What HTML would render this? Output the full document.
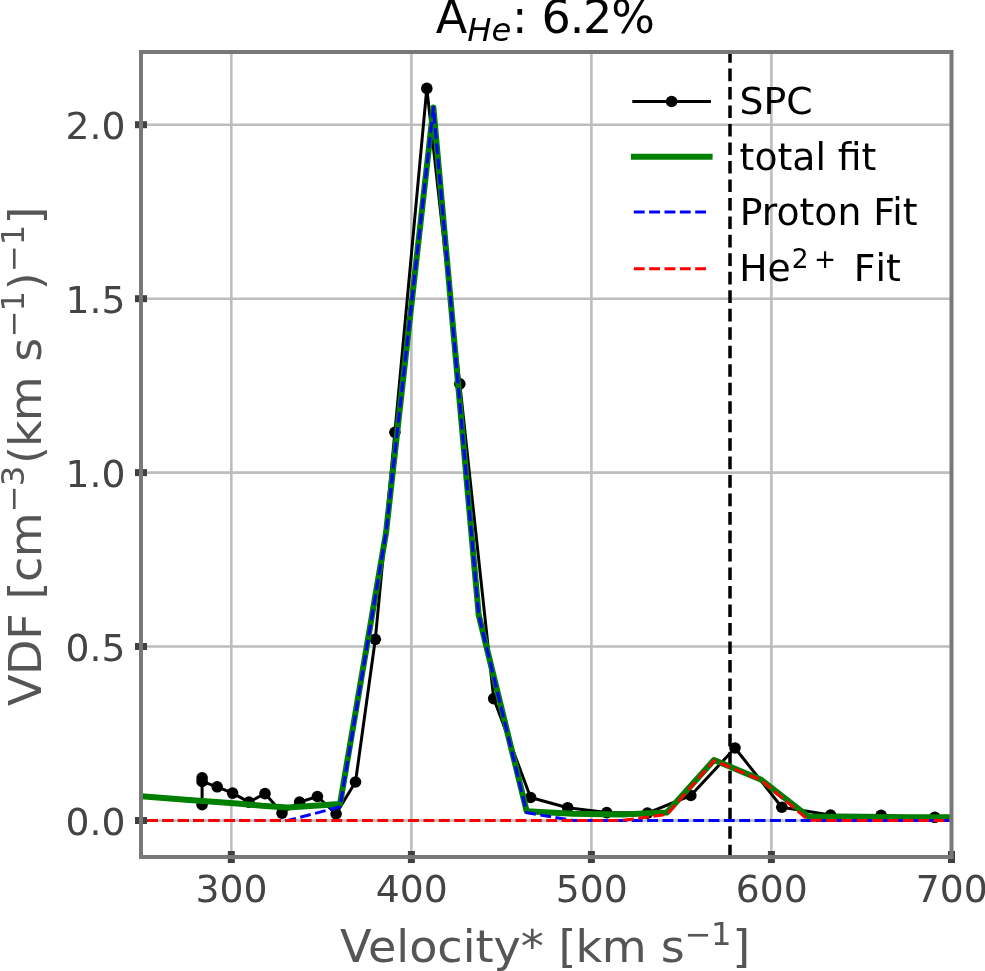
<!DOCTYPE html>
<html lang="en">
<head>
<meta charset="utf-8">
<title>AHe: 6.2%</title>
<style>
html,body{margin:0;padding:0;background:#fff;}
body{width:985px;height:971px;overflow:hidden;}
svg{display:block;}
text{font-family:"DejaVu Sans","Liberation Sans",sans-serif;}
.tick{fill:#444;}
.lab{fill:#555;}
.leg{fill:#000;}
.ttl{fill:#000;}
</style>
</head>
<body>
<svg width="985" height="971" viewBox="0 0 985 971">
<defs><clipPath id="ax"><rect x="141.0" y="52" width="810.5" height="805"/></clipPath></defs>
<rect width="985" height="971" fill="#fff"/>

<g stroke="#bdbdbd" stroke-width="2.6" fill="none">
<line x1="231.3" y1="52.0" x2="231.3" y2="857.0"/>
<line x1="411.4" y1="52.0" x2="411.4" y2="857.0"/>
<line x1="591.4" y1="52.0" x2="591.4" y2="857.0"/>
<line x1="771.4" y1="52.0" x2="771.4" y2="857.0"/>
<line x1="951.5" y1="52.0" x2="951.5" y2="857.0"/>
<line x1="141.0" y1="820.5" x2="951.5" y2="820.5"/>
<line x1="141.0" y1="646.5" x2="951.5" y2="646.5"/>
<line x1="141.0" y1="472.6" x2="951.5" y2="472.6"/>
<line x1="141.0" y1="298.7" x2="951.5" y2="298.7"/>
<line x1="141.0" y1="124.7" x2="951.5" y2="124.7"/>
</g>
<g clip-path="url(#ax)" fill="none" stroke-linejoin="round">
<line x1="730" y1="857.3" x2="730" y2="40" stroke="#000" stroke-width="3.5" stroke-dasharray="12.6 5.88"/>
<polyline points="202.1,804.6 202.1,777.8 202.1,781.4 217.2,786.8 232.6,793.1 248.9,802.1 265.0,793.6 282.0,813.1 299.6,802.1 317.4,796.5 336.1,813.8 355.5,782.0 375.3,639.3 394.9,432.3 426.8,88.4 459.8,383.9 493.7,698.6 530.6,797.5 567.7,807.7 606.7,812.6 647.4,813.1 690.8,795.5 735.0,748.0 781.8,807.2 830.6,815.1 881.1,815.4 934.8,817.3" stroke="#000" stroke-width="3"/>
<g fill="#000" stroke="none">
<circle cx="202.1" cy="804.6" r="5.8"/>
<circle cx="202.1" cy="777.8" r="5.8"/>
<circle cx="202.1" cy="781.4" r="5.8"/>
<circle cx="217.2" cy="786.8" r="5.8"/>
<circle cx="232.6" cy="793.1" r="5.8"/>
<circle cx="248.9" cy="802.1" r="5.8"/>
<circle cx="265" cy="793.6" r="5.8"/>
<circle cx="282" cy="813.1" r="5.8"/>
<circle cx="299.6" cy="802.1" r="5.8"/>
<circle cx="317.4" cy="796.5" r="5.8"/>
<circle cx="336.1" cy="813.8" r="5.8"/>
<circle cx="355.5" cy="782" r="5.8"/>
<circle cx="375.3" cy="639.3" r="5.8"/>
<circle cx="394.9" cy="432.3" r="5.8"/>
<circle cx="426.8" cy="88.4" r="5.8"/>
<circle cx="459.8" cy="383.9" r="5.8"/>
<circle cx="493.7" cy="698.6" r="5.8"/>
<circle cx="530.6" cy="797.5" r="5.8"/>
<circle cx="567.7" cy="807.7" r="5.8"/>
<circle cx="606.7" cy="812.6" r="5.8"/>
<circle cx="647.4" cy="813.1" r="5.8"/>
<circle cx="690.8" cy="795.5" r="5.8"/>
<circle cx="735" cy="748" r="5.8"/>
<circle cx="781.8" cy="807.2" r="5.8"/>
<circle cx="830.6" cy="815.1" r="5.8"/>
<circle cx="881.1" cy="815.4" r="5.8"/>
<circle cx="934.8" cy="817.3" r="5.8"/>
</g>
<polyline points="120.0,794.7 141.3,796.2 189.0,800.0 237.0,803.6 262.0,805.8 288.0,807.4 340.0,803.9 386.0,533.0 433.4,107.5 478.7,615.0 526.7,811.3 573.0,813.8 621.8,814.5 666.9,812.6 714.0,760.0 761.3,779.8 808.4,816.5 855.0,817.1 902.0,817.2 970.0,817.3" stroke="#008000" stroke-width="6"/>
<polyline points="131.8,820.5 288.0,820.5 340.0,806.8 386.0,533.0 433.4,107.5 478.7,615.0 526.7,812.6 573.0,820.5" stroke="#0000ff" stroke-width="3" stroke-dasharray="10.85 4.5"/>
<polyline points="573.0,820.5 970.0,820.5" stroke="#0000ff" stroke-width="3" stroke-dasharray="10.85 4.5" stroke-dashoffset="2.6"/>
<polyline points="131.8,820.5 621.8,820.5 666.9,814.5 714.0,760.6 761.3,780.2 808.4,820.1" stroke="#ff0000" stroke-width="3" stroke-dasharray="10.85 4.5"/>
<polyline points="808.4,820.1 830.0,820.5 970.0,820.5" stroke="#ff0000" stroke-width="3" stroke-dasharray="10.85 4.5" stroke-dashoffset="-2.3"/>
</g>
<g stroke="#404040" stroke-width="7">
<line x1="231.3" y1="851.0" x2="231.3" y2="863.0"/>
<line x1="411.4" y1="851.0" x2="411.4" y2="863.0"/>
<line x1="591.4" y1="851.0" x2="591.4" y2="863.0"/>
<line x1="771.4" y1="851.0" x2="771.4" y2="863.0"/>
<line x1="951.5" y1="851.0" x2="951.5" y2="863.0"/>
<line x1="135.0" y1="820.5" x2="147.0" y2="820.5"/>
<line x1="135.0" y1="646.5" x2="147.0" y2="646.5"/>
<line x1="135.0" y1="472.6" x2="147.0" y2="472.6"/>
<line x1="135.0" y1="298.7" x2="147.0" y2="298.7"/>
<line x1="135.0" y1="124.7" x2="147.0" y2="124.7"/>
</g>
<rect x="141.0" y="52.0" width="810.5" height="805.0" fill="none" stroke="#787878" stroke-width="4"/>
<text class="tick" transform="translate(231.62,902.00) scale(1.02,1)" font-size="37.0" text-anchor="middle">300</text>
<text class="tick" transform="translate(411.66,902.00) scale(1.02,1)" font-size="37.0" text-anchor="middle">400</text>
<text class="tick" transform="translate(591.70,902.00) scale(1.02,1)" font-size="37.0" text-anchor="middle">500</text>
<text class="tick" transform="translate(771.74,902.00) scale(1.02,1)" font-size="37.0" text-anchor="middle">600</text>
<text class="tick" transform="translate(951.78,902.00) scale(1.02,1)" font-size="37.0" text-anchor="middle">700</text>
<text class="tick" transform="translate(125.50,834.90) scale(1.02,1)" font-size="37.0" text-anchor="end">0.0</text>
<text class="tick" transform="translate(125.50,660.95) scale(1.02,1)" font-size="37.0" text-anchor="end">0.5</text>
<text class="tick" transform="translate(125.50,487.00) scale(1.02,1)" font-size="37.0" text-anchor="end">1.0</text>
<text class="tick" transform="translate(125.50,313.05) scale(1.02,1)" font-size="37.0" text-anchor="end">1.5</text>
<text class="tick" transform="translate(125.50,139.10) scale(1.02,1)" font-size="37.0" text-anchor="end">2.0</text>
<text class="lab" transform="translate(340.00,961.50) scale(1.025,1)" font-size="45.0" text-anchor="start"><tspan font-size="45.00" dx="0.00" dy="0.00">Velocity* [</tspan><tspan font-size="45.00" dx="-1.02" dy="0.00" style="letter-spacing:-0.439px;">km</tspan><tspan font-size="45.00" dx="-0.15" dy="0.00"> s</tspan><tspan font-size="31.50" dx="-0.29" dy="-16.50" style="letter-spacing:-0.488px;">−1</tspan><tspan font-size="45.00" dx="1.27" dy="16.50">]</tspan></text>
<text class="lab" transform="translate(40.50,705.00) rotate(-90) scale(1.025,1)" font-size="45.0" text-anchor="start"><tspan font-size="45.00" dx="-0.98" dy="0.00" style="letter-spacing:-0.439px;">VDF [cm</tspan><tspan font-size="31.50" dx="0.29" dy="-16.50" style="letter-spacing:-0.927px;">−3</tspan><tspan font-size="45.00" dx="2.68" dy="16.50" style="letter-spacing:-0.976px;">(km</tspan><tspan font-size="45.00" dx="0.83" dy="0.00"> s</tspan><tspan font-size="31.50" dx="0.34" dy="-16.50" style="letter-spacing:-0.976px;">−1</tspan><tspan font-size="45.00" dx="1.56" dy="16.50">)</tspan><tspan font-size="31.50" dx="0.15" dy="-16.50" style="letter-spacing:-0.244px;">−1</tspan><tspan font-size="45.00" dx="0.63" dy="16.50">]</tspan></text>
<text class="ttl" transform="translate(435.80,33.10) scale(1,1)" font-size="46" text-anchor="start">A<tspan font-size="32.2" font-style="italic" dy="7.4">He</tspan><tspan font-size="46" dy="-7.4" dx="0.6">: </tspan><tspan dx="-0.4" style="letter-spacing:-1.2px;">6.2%</tspan></text>
<g fill="none">
<line x1="632.3" y1="101.5" x2="711" y2="101.5" stroke="#000" stroke-width="3"/>
<circle cx="671.6" cy="101.5" r="5.8" fill="#000"/>
<line x1="633.9" y1="156.7" x2="709.6" y2="156.7" stroke="#008000" stroke-width="6" stroke-linecap="square"/>
<line x1="633.8" y1="212.1" x2="708.8" y2="212.1" stroke="#0000ff" stroke-width="3" stroke-dasharray="10.85 4.5"/>
<line x1="633.8" y1="268.8" x2="708.8" y2="268.8" stroke="#ff0000" stroke-width="3" stroke-dasharray="10.85 4.5"/>
</g>
<text class="leg" transform="translate(739.50,113.90) scale(1.02,1)" font-size="37.0" text-anchor="start">SPC</text>
<text class="leg" transform="translate(739.60,169.90) scale(1.02,1)" font-size="37.0" text-anchor="start">total fit</text>
<text class="leg" transform="translate(739.70,224.90) scale(1.02,1)" font-size="37.0" text-anchor="start">Proton Fit</text>
<text class="leg" transform="translate(738.00,281.00) scale(1.02,1)" font-size="37.0" text-anchor="start"><tspan font-size="37.00" dx="1.18" dy="0.00">He</tspan><tspan font-size="25.90" dx="0.88" dy="-13.50">2</tspan><tspan font-size="25.90" dx="-2.84" dy="0.00"> +</tspan><tspan font-size="37.00" dx="5.59" dy="13.50" style="font-kerning:none;"> Fit</tspan></text>
</svg>
</body>
</html>
